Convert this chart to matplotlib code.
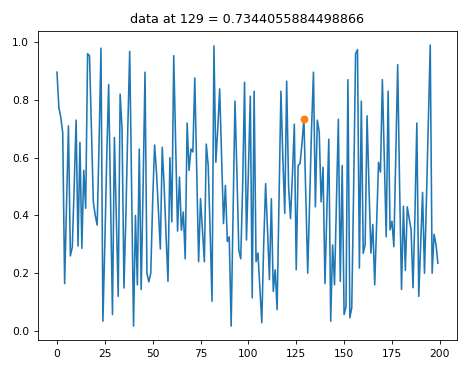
import numpy as np
import matplotlib
matplotlib.use("Agg")
import matplotlib.pyplot as plt

# === Series values (index 0..199) ===
data = [
    0.896, 0.773, 0.74, 0.687, 0.164, 0.44, 0.71, 0.26, 0.29, 0.5,
    0.73, 0.294, 0.653, 0.286, 0.556, 0.425, 0.96, 0.953, 0.7, 0.447,
    0.40, 0.367, 0.65, 0.979, 0.034, 0.3, 0.6, 0.853, 0.45, 0.057,
    0.67, 0.4, 0.12, 0.82, 0.70, 0.149, 0.4, 0.7, 0.968, 0.5,
    0.017, 0.40, 0.16, 0.63, 0.144, 0.5, 0.896, 0.2, 0.17, 0.2,
    0.45, 0.644, 0.55, 0.42, 0.284, 0.636, 0.5, 0.33, 0.172, 0.60,
    0.378, 0.953, 0.65, 0.346, 0.533, 0.349, 0.412, 0.25, 0.72, 0.556,
    0.63, 0.62, 0.876, 0.55, 0.24, 0.458, 0.35, 0.24, 0.647, 0.573,
    0.35, 0.103, 0.987, 0.584, 0.7, 0.838, 0.6, 0.372, 0.504, 0.31,
    0.326, 0.017, 0.4, 0.796, 0.55, 0.28, 0.25, 0.5, 0.861, 0.315,
    0.55, 0.813, 0.115, 0.83, 0.24, 0.27, 0.15, 0.029, 0.3, 0.51,
    0.35, 0.178, 0.458, 0.137, 0.212, 0.074, 0.45, 0.83, 0.6, 0.407,
    0.865, 0.5, 0.389, 0.54, 0.716, 0.212, 0.573, 0.58, 0.65, 0.7344055884498866,
    0.47, 0.2, 0.45, 0.7, 0.896, 0.43, 0.73, 0.69, 0.447, 0.567,
    0.164, 0.42, 0.664, 0.034, 0.298, 0.16, 0.45, 0.733, 0.172, 0.573,
    0.057, 0.085, 0.87, 0.046, 0.08, 0.5, 0.96, 0.974, 0.218, 0.796,
    0.269, 0.3, 0.745, 0.5, 0.27, 0.369, 0.16, 0.37, 0.584, 0.55,
    0.87, 0.6, 0.326, 0.83, 0.35, 0.38, 0.292, 0.6, 0.922, 0.5,
    0.144, 0.432, 0.21, 0.43, 0.39, 0.35, 0.15, 0.4, 0.72, 0.12,
    0.3, 0.48, 0.2, 0.45, 0.72, 0.99, 0.2, 0.335, 0.3, 0.235,
]
highlight = 129

data = np.array(data)

fig = plt.figure(figsize=(4.74, 3.73), dpi=100)
ax = fig.add_axes([0.080, 0.088, 0.884, 0.829])

ax.plot(np.arange(len(data)), data, color='C0', linewidth=1.15)
ax.plot(highlight, data[highlight], 'o', color='C1', markersize=4.6)

ax.set_title(f'data at {highlight} = {data[highlight]}', fontsize=9.2)
ax.tick_params(labelsize=7.7, length=2.7, width=0.6)
for s in ax.spines.values():
    s.set_linewidth(0.6)

fig.savefig("out.png", dpi=100)
